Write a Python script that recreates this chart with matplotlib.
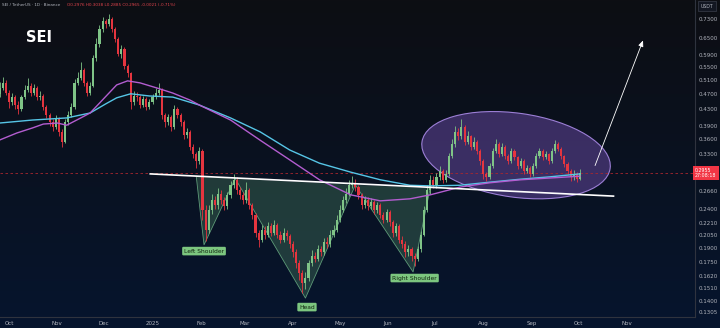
import numpy as np
import pandas as pd
import matplotlib
matplotlib.use("Agg")
import matplotlib.pyplot as plt
import matplotlib.dates as mdates
from matplotlib.patches import Ellipse
from matplotlib.transforms import IdentityTransform
from matplotlib.ticker import FixedLocator, FixedFormatter, NullLocator

# ---------------- data ----------------
symbol = "SEI"
header_left = "SEI / TetherUS · 1D · Binance"
header_values = "O0.2976 H0.3038 L0.2885 C0.2965 -0.0021 (-0.71%)"
last_price = 0.2955
countdown = "27:08:18"

candle_start = "2024-09-25"   # 2-day candles
open_first = 0.470
close = [.487,.501,.473,.447,.460,.439,.429,.460,.481,.493,.473,.487,.460,.465,.434,.415,.398,.387,.405,
         .376,.355,.398,.415,.434,.501,.516,.540,.501,.473,.493,.578,.630,.686,.719,
         .706,.727,.686,.648,.595,.612,.553,.531,.447,.465,.460,.439,.456,.434,.447,
         .460,.473,.481,.415,.398,.410,.387,.429,.415,.398,.370,.376,.345,.330,.317,
         .336,.238,.212,.238,.252,.245,.262,.252,.243,.259,.275,.283,.267,.259,
         .252,.267,.245,.231,.208,.200,.212,.206,.216,.208,.218,.206,.200,.208,.204,.195,
         .186,.174,.164,.155,.160,.174,.182,.179,.189,.186,.197,.195,.206,.212,.225,
         .238,.252,.262,.275,.278,.272,.259,.245,.252,.243,.249,.238,.245,.231,.225,.235,
         .222,.208,.216,.200,.195,.186,.189,.182,.179,.189,.206,.238,.267,.283,.275,
         .289,.299,.283,.294,.326,.350,.376,.366,.387,.355,.366,.345,.355,.336,.317,
         .294,.289,.308,.336,.350,.330,.345,.326,.317,.336,.324,.308,.317,.299,.304,.294,
         .308,.326,.336,.324,.330,.317,.336,.350,.341,.326,.312,.299,.289,.294,.286,.2955]
high = [.505,.520,.510,.480,.472,.468,.450,.468,.495,.516,.500,.498,.492,.478,.470,.440,.420,.405,.415,
        .410,.382,.405,.425,.445,.512,.535,.565,.548,.508,.505,.590,.650,.705,.735,
        .730,.752,.735,.695,.655,.625,.620,.560,.535,.478,.475,.466,.465,.462,.455,
        .470,.485,.500,.486,.420,.418,.415,.440,.436,.420,.402,.385,.380,.350,.335,
        .345,.340,.245,.245,.262,.258,.270,.268,.256,.265,.282,.293,.288,.272,
        .264,.280,.270,.248,.234,.212,.218,.217,.222,.220,.224,.221,.210,.214,.212,.207,
        .198,.189,.177,.167,.165,.178,.188,.186,.194,.193,.202,.203,.211,.218,.231,
        .245,.258,.270,.283,.290,.285,.276,.263,.258,.256,.255,.252,.250,.248,.235,.240,
        .238,.225,.221,.219,.204,.198,.194,.192,.185,.193,.210,.243,.275,.292,.290,
        .295,.308,.302,.300,.333,.360,.390,.385,.405,.392,.378,.370,.365,.358,.340,
        .320,.298,.314,.342,.360,.354,.352,.348,.330,.342,.340,.327,.322,.320,.310,.307,
        .313,.332,.343,.340,.336,.333,.342,.358,.354,.345,.329,.315,.302,.300,.298,.302]
low = [.462,.480,.466,.432,.440,.430,.418,.425,.455,.476,.465,.468,.452,.452,.428,.408,.390,.378,.382,
       .368,.345,.352,.392,.410,.430,.495,.510,.492,.465,.468,.490,.570,.620,.675,
       .690,.700,.675,.635,.585,.580,.545,.520,.430,.440,.450,.432,.435,.428,.430,
       .442,.455,.468,.405,.388,.392,.378,.383,.408,.390,.360,.362,.338,.322,.305,
       .312,.225,.198,.208,.232,.240,.240,.247,.238,.240,.255,.270,.262,.254,
       .246,.248,.240,.226,.203,.192,.197,.201,.203,.204,.205,.202,.196,.197,.200,.190,
       .181,.169,.158,.146,.150,.157,.171,.175,.176,.182,.183,.190,.192,.203,.209,
       .222,.235,.248,.258,.270,.266,.254,.240,.241,.238,.239,.233,.234,.227,.220,.222,
       .217,.203,.204,.196,.190,.181,.182,.176,.171,.176,.186,.204,.235,.262,.270,
       .270,.284,.278,.280,.291,.322,.345,.358,.360,.348,.350,.338,.340,.330,.310,
       .286,.282,.286,.305,.332,.325,.326,.320,.312,.314,.318,.302,.304,.294,.295,.289,
       .291,.305,.322,.319,.320,.312,.314,.332,.336,.320,.306,.294,.282,.284,.280,.283]

ma_blue_dates = ["2024-09-25","2024-10-16","2024-11-07","2024-11-22","2024-12-02","2024-12-09",
                 "2024-12-18","2024-12-30","2025-01-14","2025-01-31","2025-02-20","2025-03-11",
                 "2025-03-30","2025-04-18","2025-05-08","2025-05-27","2025-06-15","2025-06-28",
                 "2025-07-17","2025-08-05","2025-08-25","2025-09-13","2025-10-02"]
ma_blue = [.396,.403,.408,.420,.443,.459,.470,.464,.461,.440,.408,.376,.338,.313,.297,.284,
           .275,.274,.275,.280,.285,.289,.294]

ma_purple_dates = ["2024-09-25","2024-10-06","2024-10-16","2024-10-23","2024-11-01","2024-11-07",
                   "2024-11-16","2024-11-22","2024-11-28","2024-12-09","2024-12-16","2024-12-24",
                   "2025-01-04","2025-01-14","2025-01-25","2025-01-31","2025-02-20","2025-03-11",
                   "2025-03-30","2025-04-18","2025-05-08","2025-05-27","2025-06-15","2025-06-28",
                   "2025-07-17","2025-08-05","2025-08-25","2025-09-13","2025-10-02"]
ma_purple = [.3585,.3735,.3847,.3936,.396,.391,.408,.420,.445,.495,.507,.501,.486,.472,.453,.440,
             .403,.358,.319,.284,.260,.251,.254,.260,.272,.279,.284,.287,.290]

neck_dates = ["2024-12-30", "2025-10-24"]
neck_prices = [0.294, 0.258]

ls_dates = ["2025-01-29", "2025-02-03", "2025-02-23"]
ls_prices = [0.290, 0.194, 0.286]
head_dates = ["2025-02-23", "2025-04-09", "2025-05-11"]
head_prices = [0.286, 0.142, 0.2755]
rs_dates = ["2025-05-11", "2025-06-17", "2025-06-28"]
rs_prices = [0.2755, 0.1655, 0.2707]

pattern_labels = ["Left Shoulder", "Head", "Right Shoulder"]
pattern_label_dates = ["2025-02-03", "2025-04-10", "2025-06-18"]
pattern_label_prices = [0.187, 0.1347, 0.1597]

range_center_date = "2025-08-22"
range_center_price = 0.328

arrow_dates = ["2025-10-11", "2025-11-12"]
arrow_prices = [0.304, 0.652]

price_ticks = [0.7300, 0.6500, 0.5900, 0.5500, 0.5100, 0.4700, 0.4300, 0.3900, 0.3600, 0.3300,
               0.2660, 0.2400, 0.2210, 0.2050, 0.1900, 0.1750, 0.1620, 0.1510, 0.1400, 0.1305]
month_ticks = ["2024-10-01","2024-11-01","2024-12-01","2025-01-01","2025-02-01","2025-03-01",
               "2025-04-01","2025-05-01","2025-06-01","2025-07-01","2025-08-01","2025-09-01",
               "2025-10-01","2025-11-01"]
month_labels = ["Oct","Nov","Dec","2025","Feb","Mar","Apr","May","Jun","Jul","Aug","Sep","Oct","Nov"]

# ---------------- style ----------------
UP = "#7fc487"
DOWN = "#e5353f"
TXT = "#b2b5be"
W, H = 720, 328

fig = plt.figure(figsize=(W / 100, H / 100), dpi=100)

# background gradient
bg = fig.add_axes([0, 0, 1, 1], zorder=0)
top = np.array([13, 14, 19]) / 255
bot = np.array([6, 21, 46]) / 255
t = np.linspace(0, 1, 256)[:, None]
grad = top[None, :] * (1 - t) + bot[None, :] * t
grad = np.repeat(grad[:, None, :], 2, axis=1)
bg.imshow(grad, aspect="auto", extent=[0, 1, 0, 1])
bg.axis("off")

ax = fig.add_axes([0, 11 / H, 695 / W, 317 / H], zorder=1)
ax.patch.set_alpha(0)
ax.set_yscale("log")

x0 = mdates.date2num(pd.Timestamp("2024-10-01"))
ax.set_xlim(x0 - 5.77, x0 + 439.7)
ax.set_ylim(0.1271, 0.8142)

# candles
dates = pd.date_range(candle_start, periods=len(close), freq="2D")
xs = mdates.date2num(dates)
c = np.array(close)
h = np.array(high)
l = np.array(low)
o = np.concatenate([[open_first], c[:-1]])
cols = np.where(c >= o, UP, DOWN)
ax.vlines(xs, l, h, colors=cols, lw=0.6, zorder=4)
ax.bar(xs, np.abs(c - o), bottom=np.minimum(o, c), width=1.35, color=cols, linewidth=0, zorder=4)

# moving averages
ax.plot(mdates.date2num(pd.to_datetime(ma_blue_dates)), ma_blue, color="#56c5e6", lw=1.0, zorder=5)
ax.plot(mdates.date2num(pd.to_datetime(ma_purple_dates)), ma_purple, color="#b35dd0", lw=1.0, zorder=5)

# head & shoulders fills
for dd, pp in [(ls_dates, ls_prices), (head_dates, head_prices), (rs_dates, rs_prices)]:
    ax.fill(mdates.date2num(pd.to_datetime(dd)), pp, facecolor="#3f6e57", alpha=0.45,
            edgecolor="none", zorder=2)
    ax.plot(mdates.date2num(pd.to_datetime(dd)), pp, color="#5e9a78", lw=0.6, zorder=2.5)

for txt, dd, pp in zip(pattern_labels, pattern_label_dates, pattern_label_prices):
    ax.text(mdates.date2num(pd.Timestamp(dd)), pp, txt, fontsize=4.3, color="#10240f",
            ha="center", va="center", zorder=7,
            bbox=dict(boxstyle="round,pad=0.3,rounding_size=0.2", fc="#7cc67f", ec="none"))

# neckline
ax.plot(mdates.date2num(pd.to_datetime(neck_dates)), neck_prices, color="white", lw=1.2,
        zorder=6, solid_capstyle="butt")

# current price line
ax.axhline(last_price, color="#a8262f", lw=0.6, ls=(0, (3, 3)), zorder=3)

# range ellipse
cx, cy = ax.transData.transform((mdates.date2num(pd.Timestamp(range_center_date)), range_center_price))
ell = Ellipse((cx, cy), width=190, height=84, angle=-8, transform=IdentityTransform(),
              facecolor="#7e57c2", alpha=0.42, edgecolor="none", zorder=1.5)
ax.add_patch(ell)
ell2 = Ellipse((cx, cy), width=190, height=84, angle=-8, transform=IdentityTransform(),
               facecolor="none", edgecolor="#9c7fd6", lw=0.8, zorder=1.6)
ax.add_patch(ell2)

# projection arrow
ax.annotate("", xy=(mdates.date2num(pd.Timestamp(arrow_dates[1])), arrow_prices[1]),
            xytext=(mdates.date2num(pd.Timestamp(arrow_dates[0])), arrow_prices[0]),
            arrowprops=dict(arrowstyle="-|>,head_length=0.35,head_width=0.15", color="white", lw=0.6),
            zorder=6)

# axes styling
ax.yaxis.tick_right()
ax.yaxis.set_major_locator(FixedLocator(price_ticks))
ax.yaxis.set_major_formatter(FixedFormatter([f"{p:.4f}" for p in price_ticks]))
ax.yaxis.set_minor_locator(NullLocator())
ax.xaxis.set_major_locator(FixedLocator(mdates.date2num(pd.to_datetime(month_ticks))))
ax.xaxis.set_major_formatter(FixedFormatter(month_labels))
ax.tick_params(axis="both", length=0, labelsize=4.0, labelcolor=TXT)
ax.tick_params(axis="y", pad=2.5)
ax.tick_params(axis="x", pad=3)
for s in ["top", "left"]:
    ax.spines[s].set_visible(False)
for s in ["right", "bottom"]:
    ax.spines[s].set_color("#2f333e")
    ax.spines[s].set_linewidth(0.8)

# price label on axis
ax.text(1.0, last_price, f"{last_price:.4f}\n{countdown}", transform=ax.get_yaxis_transform(),
        fontsize=3.4, color="white", ha="left", va="center", linespacing=1.15, zorder=10,
        clip_on=False, bbox=dict(boxstyle="square,pad=0.45", fc="#f23645", ec="none"))

# header texts
fig.text(2 / W, 1 - 5 / H, header_left, fontsize=3.0, color=TXT, va="center", ha="left", zorder=5)
fig.text(67 / W, 1 - 5 / H, header_values, fontsize=3.0, color="#e0434c", va="center", ha="left", zorder=5)
fig.text(26 / W, 1 - 38 / H, symbol, fontsize=10.5, fontweight="bold", color="white",
         va="center", ha="left", zorder=5)
fig.text(707 / W, 1 - 6 / H, "USDT", fontsize=3.3, color=TXT, va="center", ha="center", zorder=5,
         bbox=dict(boxstyle="square,pad=0.5", fc="#131722", ec="#3a3e4a", lw=0.5))

fig.savefig("out.png", dpi=100)
